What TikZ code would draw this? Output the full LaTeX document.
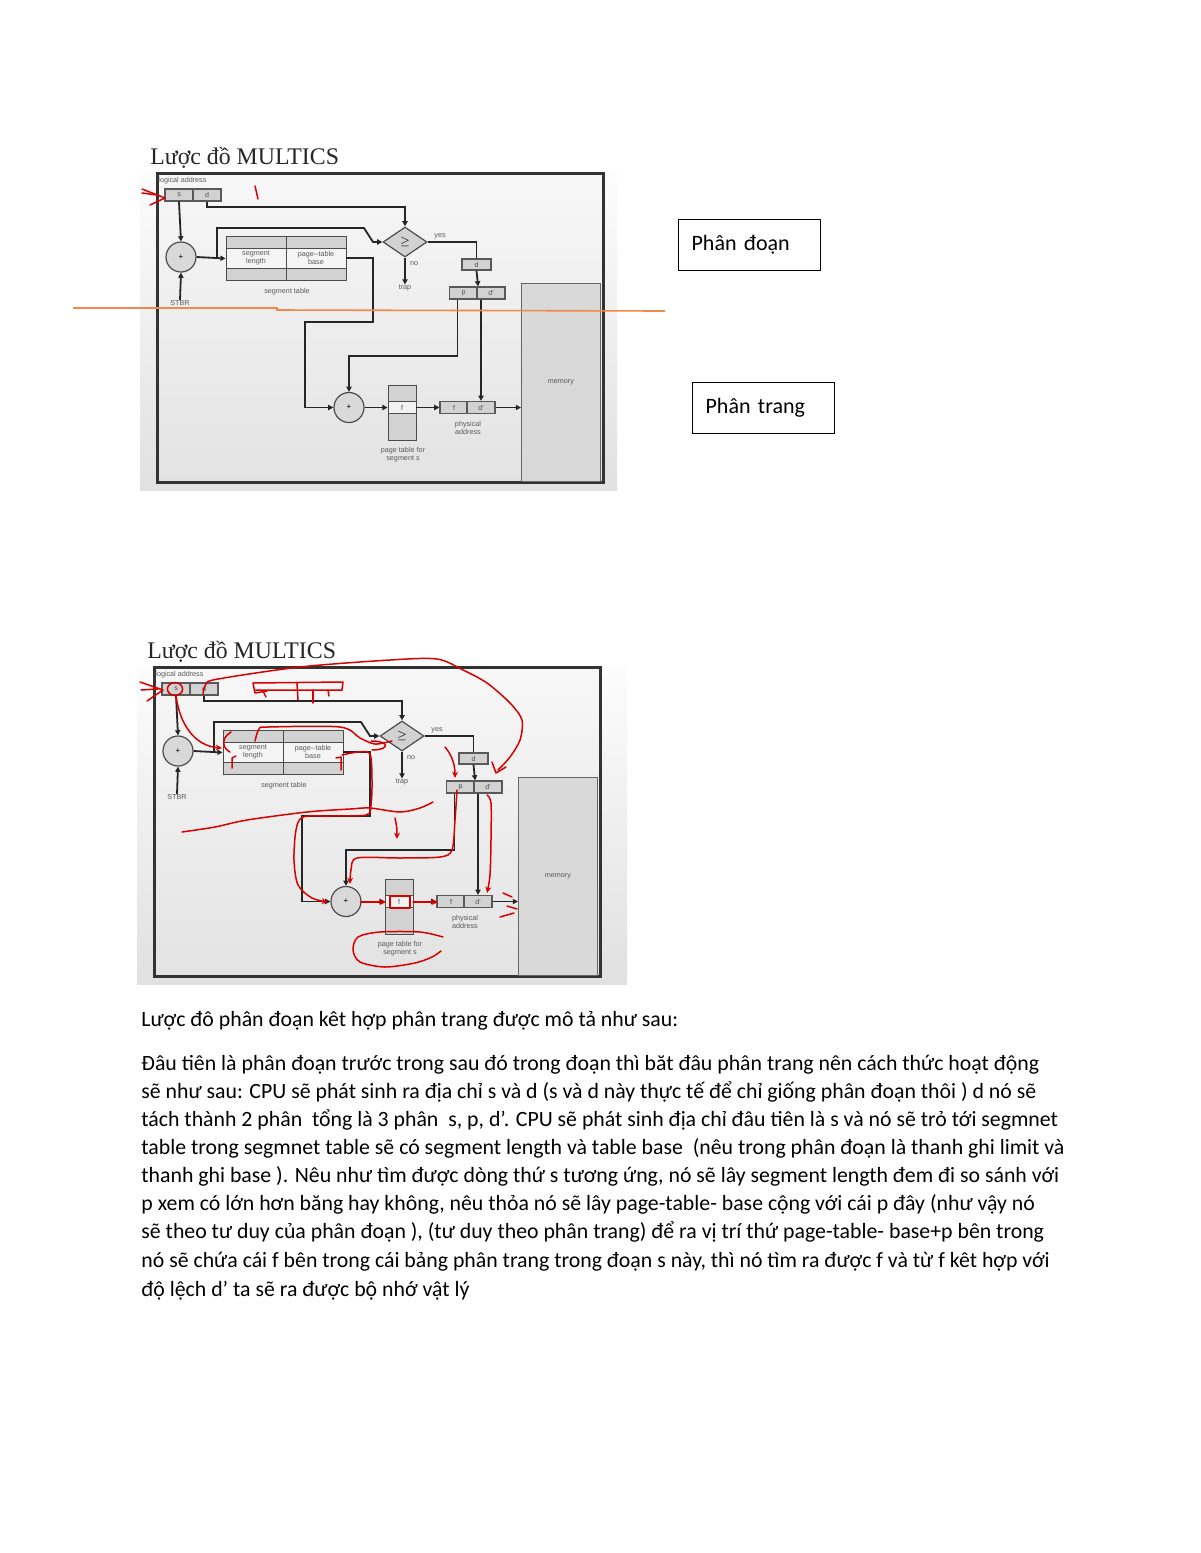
\documentclass[tikz,border=0pt]{standalone}
\usepackage{fontspec}
\setmainfont{Carlito}
\newfontfamily\serifT{Liberation Serif}
\newfontfamily\diagf{Liberation Sans}
\usetikzlibrary{shapes.geometric,arrows.meta,calc}

\tikzset{
  cellbox/.style={draw=black!65, fill=gray!35, line width=0.6pt, minimum width=14pt, minimum height=6pt, inner sep=0pt, font=\diagf\fontsize{3.5}{4}\selectfont, text=black!70},
  lbl/.style={font=\diagf\fontsize{3.6}{4}\selectfont, text=black!65, inner sep=0pt, align=center},
  con/.style={draw=black!85, line width=0.9pt},
  arr/.style={con, -{Triangle[length=2.6pt,width=2.6pt]}},
  adder/.style={circle, draw=black!70, fill=gray!30, minimum size=15pt, inner sep=0pt, line width=0.6pt, font=\diagf\fontsize{4}{4}\selectfont},
  redpen/.style={draw=red!85!black, line width=0.75pt, line cap=round, line join=round},
  redarr/.style={redpen, -{Stealth[length=3.2pt,width=3pt]}},
  tagbox/.style={draw=black, line width=0.6pt, anchor=north west, minimum height=25.5pt, text width=58pt, inner xsep=6.5pt, align=left, font=\fontsize{11}{13}\selectfont},
  bodytext/.style={anchor=base west, inner sep=0pt, font=\fontsize{10.9}{13}\selectfont},
}

\newcommand{\multicsdiag}[2]{%
  \shade[top color=gray!2, bottom color=gray!24] (140,172) rectangle (#2,490);
  \node[font=\serifT\fontsize{11.9}{12}\selectfont, anchor=west, inner sep=0pt, text=black!85] (#1title) at (150,158) {Lược đồ MULTICS};
  \shade[top color=gray!6, bottom color=gray!22] (157,173) rectangle (603,482);
  \draw[line width=1.5pt, black!80] (157,173) rectangle (603,482);
  \node[lbl, anchor=west] (#1la) at (158,181) {logical address};
  \node[cellbox] (#1s) at (179,195) {s};
  \node[cellbox] (#1d) at (207,195) {d};
  \node[adder] (#1c1) at (181,257) {+};
  \node[lbl] (#1stbr) at (180,303) {STBR};
  \node[draw=black!70, fill=gray!35, minimum width=60pt, minimum height=22pt, inner sep=0pt] (#1seg) at (286,258.5) {};
  \node[draw=black!70, fill=gray!8, minimum width=30pt, minimum height=10pt, lbl] (#1len) at (256,258) {segment\\length};
  \node[draw=black!70, fill=gray!8, minimum width=30pt, minimum height=10pt, lbl] (#1base) at (316,258) {page--table\\base};
  \draw[black!70] (#1seg.north) -- (#1seg.south);
  \node[lbl] (#1segl) at (287,292) {segment table};
  \node[diamond, draw=black!70, fill=gray!35, minimum width=22pt, minimum height=15pt, inner sep=0pt, line width=0.6pt] (#1dia) at (405,242) {\fontsize{5}{5}\selectfont$\geq$};
  \node[lbl] (#1yes) at (440,236) {yes};
  \node[lbl] (#1no) at (414,264) {no};
  \node[lbl] (#1trap) at (405,288) {trap};
  \node[cellbox, minimum width=14.5pt, minimum height=5.5pt] (#1dd) at (476.5,264.5) {d};
  \node[cellbox] (#1p) at (463.5,293) {p};
  \node[cellbox] (#1dp) at (491,293) {d'};
  \node[draw=black!60, fill=gray!30, minimum width=39.5pt, minimum height=99pt, anchor=north west, lbl] (#1mem) at (521,283) {memory};
  \node[adder] (#1c2) at (349,407.5) {+};
  \node[draw=black!70, fill=gray!35, minimum width=14pt, minimum height=27.5pt, inner sep=0pt] (#1pt) at (402,412.5) {};
  \node[draw=black!70, fill=gray!10, minimum width=14pt, minimum height=6pt, lbl] (#1f) at (402,407.5) {f};
  \node[cellbox] (#1pf) at (454,407.5) {f};
  \node[cellbox] (#1pd) at (481,407.5) {d'};
  \node[lbl] (#1phy) at (468,428) {physical\\address};
  \node[lbl] (#1ptl) at (403,455) {page table for\\segment s};
  \coordinate (#1br) at (217,258);
  % connectors
  \draw[arr] (#1s.south) -- (#1c1.north);
  \draw[arr] (#1stbr.north) -- (#1c1.south);
  \draw[arr] (#1c1.east) -- (#1seg.west);
  \draw[arr] (#1br) -- (217,228) -- (364,228) -- (373,242) -- (#1dia.west);
  \draw[arr] (#1d.south) -- ++(0,5) -| (#1dia.north);
  \draw[con] (#1dia.east) -| (#1dd.north);
  \draw[arr] (#1dd.south) -- (#1p.north east);
  \draw[arr] (#1dia.south) -- (#1trap.north);
  \draw[arr] ($(#1p.south)+(-6,0)$) -- ++(0,56) -| (#1c2.north);
  \draw[arr] (#1pd.north |- #1dp.south) -- (#1pd.north);
  \draw[arr] (#1base.east) -- (373,258) -- (373,322) -- (305,322) |- (#1c2.west);
  \draw[arr] (#1c2.east) -- (#1f.west);
  \draw[arr] (#1f.east) -- (#1pf.west);
  \draw[arr] (#1pd.east) -- (#1mem.west |- #1pd.east);
}

\begin{document}
\begin{tikzpicture}[x=0.5pt, y=-0.5pt]
\useasboundingbox (0,0) rectangle (1200,1553);
\fill[white] (0,0) rectangle (1200,1553);

% ---------- diagram 1 ----------
\multicsdiag{a}{617}
\draw[draw={rgb,255:red,240;green,138;blue,75}, line width=0.8pt] (73,308) -- (277,308) -- (277,310) -- (665,311);
\draw[redpen] (142,189) -- (165,198) -- (150,205);
\draw[redpen] (142,193) -- (157,195);
\draw[redpen] (255,186) -- (258,199);

% tag boxes
\node[tagbox, minimum width=70.5pt] (tagseg) at (678,219) {Phân đoạn};
\node[tagbox, minimum width=70.5pt] (tagpage) at (692,382) {Phân trang};

% ---------- diagram 2 ----------
\begin{scope}[shift={(-3,494)}]
\multicsdiag{b}{630}
\end{scope}
% red annotations
\draw[redpen] (140,682) -- (163,690) -- (147,701);
\draw[redpen] (141,690) -- (158,689);
\draw[redpen] (175,689) ellipse [x radius=3.8pt, y radius=3.2pt];
\draw[redarr] (176,696) .. controls (180,725) and (195,746) .. (222,748);
\draw[redpen] plot[smooth] coordinates {(203,694) (206,684) (218,679) (300,667) (390,660) (437,659) (463,670) (487,683) (510,703) (522,720) (520,740) (510,757) (498,770)};
\draw[redpen] (492,762) -- (496,773) -- (506,767);
\draw[redpen] (267,691) -- (255,693) -- (253,683) -- (343,682) -- (342,690) -- (256,690);
\draw[redpen] (297,683) -- (298,700);
\draw[redpen] (313,690) -- (313,703);
\draw[redpen] (328,690) -- (329,696);
\draw[redpen] (263,691) -- (266,697);
\draw[redpen] plot[smooth] coordinates {(255,741) (259,729) (268,727) (340,727) (360,738) (375,744) (392,741)};
\draw[redpen] (231,732) .. controls (221,738) and (222,748) .. (230,752);
\draw[redpen] (232,768) -- (232,758) -- (236,756);
\draw[redpen] (336,758) -- (341,757) -- (341,770);
\draw[redpen] (371,741) .. controls (390,741) and (390,750) .. (372,750);
\draw[redarr] plot[smooth] coordinates {(342,755) (358,752) (370,754) (372,780) (371,805) (366,815) (330,816) (303,817) (296,830) (294,860) (298,885) (312,898) (328,902)};
\draw[redpen] plot[smooth] coordinates {(182,832) (215,827) (247,820) (307,812) (350,809) (370,808) (400,812) (420,808) (433,802)};
\draw[redarr] (395,818) .. controls (397,828) .. (397,839);
\draw[redarr] (445,747) .. controls (452,755) and (455,765) .. (455,778);
\draw[redarr] plot[smooth] coordinates {(457,790) (455,820) (452,850) (440,857) (400,858) (357,858) (351,870) (350,884)};
\draw[redarr] plot[smooth] coordinates {(487,795) (491,803) (491,840) (490,875) (487,893)};
\draw[redarr, line width=1.2pt] (361,902) -- (386,902);
\draw[redpen] (390,896) rectangle (410,908);
\draw[redarr] (413,902) -- (438,902);
\draw[redpen] (503,893) -- (512,897);
\draw[redpen] (507,906) -- (517,909);
\draw[redpen] (500,917) -- (514,913);
\draw[redpen] plot[smooth] coordinates {(443,937) (420,932) (380,932) (358,937) (353,950) (360,962) (385,967) (415,963) (432,957) (441,951)};

% ---------- body text ----------
\node[bodytext] (t1) at (141,1026) {Lược đô phân đoạn kêt hợp phân trang được mô tả như sau:};
\node[bodytext] (t2) at (141,1070) {Đâu tiên là phân đoạn trước trong sau đó trong đoạn thì băt đâu phân trang nên cách thức hoạt động};
\node[bodytext] (t3) at (141,1098) {sẽ như sau: CPU sẽ phát sinh ra địa chỉ s và d (s và d này thực tế để chỉ giống phân đoạn thôi ) d nó sẽ};
\node[bodytext] (t4) at (141,1126) {tách thành 2 phân\ \ tổng là 3 phân\ \ s, p, d’. CPU sẽ phát sinh địa chỉ đâu tiên là s và nó sẽ trỏ tới segmnet};
\node[bodytext] (t5) at (141,1154) {table trong segmnet table sẽ có segment length và table base\ \ (nêu trong phân đoạn là thanh ghi limit và};
\node[bodytext] (t6) at (141,1182) {thanh ghi base ). Nêu như tìm được dòng thứ s tương ứng, nó sẽ lây segment length đem đi so sánh với};
\node[bodytext] (t7) at (141,1210) {p xem có lớn hơn băng hay không, nêu thỏa nó sẽ lây page-table- base cộng với cái p đây (như vậy nó};
\node[bodytext] (t8) at (141,1238) {sẽ theo tư duy của phân đoạn ), (tư duy theo phân trang) để ra vị trí thứ page-table- base+p bên trong};
\node[bodytext] (t9) at (141,1267) {nó sẽ chứa cái f bên trong cái bảng phân trang trong đoạn s này, thì nó tìm ra được f và từ f kêt hợp với};
\node[bodytext] (t10) at (141,1296) {độ lệch d’ ta sẽ ra được bộ nhớ vật lý};
\end{tikzpicture}
\end{document}
